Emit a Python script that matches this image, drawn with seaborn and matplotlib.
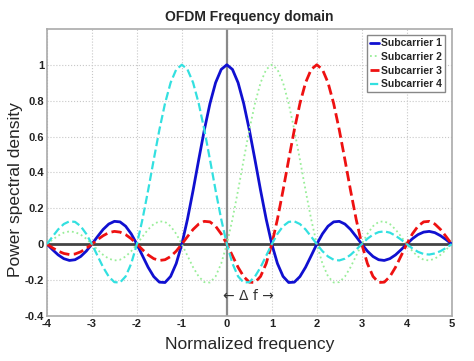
import numpy as np
import pandas as pd
import matplotlib
matplotlib.use("Agg")
import matplotlib.pyplot as plt
import seaborn as sns

# Normalized frequency grid (-4 .. 5, step 1/8)
freq = np.arange(73) / 8.0 - 4.0

# Power spectral density, one list per subcarrier
subcarrier_1 = [
    0.000, -0.031, -0.060, -0.081, -0.091, -0.087, -0.069, -0.039,
    0.000, 0.042, 0.082, 0.112, 0.127, 0.124, 0.100, 0.057,
    0.000, -0.065, -0.129, -0.181, -0.212, -0.214, -0.180, -0.108,
    0.000, 0.139, 0.300, 0.471, 0.637, 0.784, 0.900, 0.974,
    1.000, 0.974, 0.900, 0.784, 0.637, 0.471, 0.300, 0.139,
    0.000, -0.108, -0.180, -0.214, -0.212, -0.181, -0.129, -0.065,
    0.000, 0.057, 0.100, 0.124, 0.127, 0.112, 0.082, 0.042,
    0.000, -0.039, -0.069, -0.087, -0.091, -0.081, -0.060, -0.031,
    0.000, 0.030, 0.053, 0.067, 0.071, 0.064, 0.047, 0.025,
    0.000,
]
subcarrier_2 = [
    0.000, 0.025, 0.047, 0.064, 0.071, 0.067, 0.053, 0.030,
    0.000, -0.031, -0.060, -0.081, -0.091, -0.087, -0.069, -0.039,
    0.000, 0.042, 0.082, 0.112, 0.127, 0.124, 0.100, 0.057,
    0.000, -0.065, -0.129, -0.181, -0.212, -0.214, -0.180, -0.108,
    0.000, 0.139, 0.300, 0.471, 0.637, 0.784, 0.900, 0.974,
    1.000, 0.974, 0.900, 0.784, 0.637, 0.471, 0.300, 0.139,
    0.000, -0.108, -0.180, -0.214, -0.212, -0.181, -0.129, -0.065,
    0.000, 0.057, 0.100, 0.124, 0.127, 0.112, 0.082, 0.042,
    0.000, -0.039, -0.069, -0.087, -0.091, -0.081, -0.060, -0.031,
    0.000,
]
subcarrier_3 = [
    0.000, -0.021, -0.039, -0.052, -0.058, -0.055, -0.043, -0.024,
    0.000, 0.025, 0.047, 0.064, 0.071, 0.067, 0.053, 0.030,
    0.000, -0.031, -0.060, -0.081, -0.091, -0.087, -0.069, -0.039,
    0.000, 0.042, 0.082, 0.112, 0.127, 0.124, 0.100, 0.057,
    0.000, -0.065, -0.129, -0.181, -0.212, -0.214, -0.180, -0.108,
    0.000, 0.139, 0.300, 0.471, 0.637, 0.784, 0.900, 0.974,
    1.000, 0.974, 0.900, 0.784, 0.637, 0.471, 0.300, 0.139,
    0.000, -0.108, -0.180, -0.214, -0.212, -0.181, -0.129, -0.065,
    0.000, 0.057, 0.100, 0.124, 0.127, 0.112, 0.082, 0.042,
    0.000,
]
subcarrier_4 = [
    0.000, 0.042, 0.082, 0.112, 0.127, 0.124, 0.100, 0.057,
    0.000, -0.065, -0.129, -0.181, -0.212, -0.214, -0.180, -0.108,
    0.000, 0.139, 0.300, 0.471, 0.637, 0.784, 0.900, 0.974,
    1.000, 0.974, 0.900, 0.784, 0.637, 0.471, 0.300, 0.139,
    0.000, -0.108, -0.180, -0.214, -0.212, -0.181, -0.129, -0.065,
    0.000, 0.057, 0.100, 0.124, 0.127, 0.112, 0.082, 0.042,
    0.000, -0.039, -0.069, -0.087, -0.091, -0.081, -0.060, -0.031,
    0.000, 0.030, 0.053, 0.067, 0.071, 0.064, 0.047, 0.025,
    0.000, -0.024, -0.043, -0.055, -0.058, -0.052, -0.039, -0.021,
    0.000,
]

labels = ["Subcarrier 1", "Subcarrier 2", "Subcarrier 3", "Subcarrier 4"]
x_ticks = [-4, -3, -2, -1, 0, 1, 2, 3, 4, 5]
y_ticks = [-0.4, -0.2, 0, 0.2, 0.4, 0.6, 0.8, 1]
y_tick_labels = ["-0.4", "-0.2", "0", "0.2", "0.4", "0.6", "0.8", "1"]

sns.set_style("whitegrid")
plt.rcParams["font.family"] = ["Liberation Sans", "DejaVu Sans"]

fig = plt.figure(figsize=(4.74, 3.61), dpi=100)
ax = fig.add_axes([0.099, 0.125, 0.854, 0.795])

# axis lines through the origin
ax.axvline(0, color="#8a8a8a", lw=1.6, zorder=1)
ax.axhline(0, color="#444444", lw=2.0, zorder=1)

styles = [
    dict(color="#1010d0", linestyle="-", linewidth=2.0),
    dict(color="#99ee99", linestyle=":", linewidth=1.3),
    dict(color="#ee1111", linestyle="--", linewidth=2.0),
    dict(color="#33e0e0", linestyle="--", linewidth=1.6),
]
series = [subcarrier_1, subcarrier_2, subcarrier_3, subcarrier_4]
for vals, lab, st in zip(series, labels, styles):
    df = pd.DataFrame({"freq": freq, "psd": vals})
    sns.lineplot(data=df, x="freq", y="psd", ax=ax, label=lab, zorder=3, **st)

ax.set_xlim(-4, 5)
ax.set_ylim(-0.4, 1.2)
ax.set_xticks(x_ticks)
ax.set_xticklabels([str(t) for t in x_ticks], fontweight="bold", fontsize=8)
ax.set_yticks(y_ticks)
ax.set_yticklabels(y_tick_labels, fontweight="bold", fontsize=8)
ax.tick_params(axis="both", length=3, direction="in", pad=2, colors="#222222")
ax.grid(True, linestyle=":", color="#c8c8c8", linewidth=0.8)
for sp in ax.spines.values():
    sp.set_color("#aaaaaa")
    sp.set_linewidth(1.2)

ax.set_title("OFDM Frequency domain", fontsize=10, fontweight="bold", pad=6)
ax.set_xlabel("Normalized frequency", fontsize=12.5, labelpad=6)
ax.set_ylabel("Power spectral density", fontsize=12.5)
ax.yaxis.set_label_coords(-0.058, 0.44)

ax.text(0.47, -0.29, "\u2190 \u0394 f \u2192", ha="center", va="center",
        fontsize=10, family=["DejaVu Sans"], color="#333333")

leg = ax.legend(loc="upper right", fontsize=7.5, handlelength=0.9,
                handletextpad=0.2, borderpad=0.3, labelspacing=0.35,
                fancybox=False, framealpha=1, borderaxespad=0.6)
leg.get_frame().set_edgecolor("#888888")
for t in leg.get_texts():
    t.set_fontweight("bold")

fig.savefig("out.png", dpi=100)
